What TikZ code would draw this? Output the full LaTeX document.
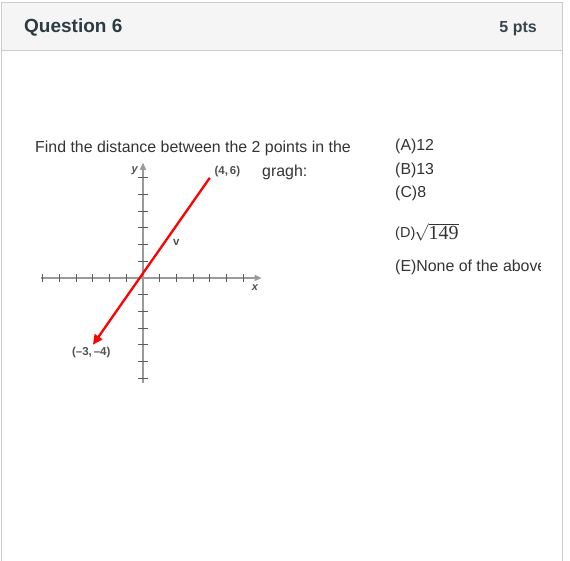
\documentclass[tikz,border=0pt]{standalone}
\usepackage{fontspec}
\setmainfont{Liberation Sans}
\newfontfamily\serifnum{Liberation Serif}
\usetikzlibrary{arrows.meta}
\definecolor{frameg}{HTML}{C7CDD1}
\definecolor{headbg}{HTML}{F5F5F5}
\definecolor{titlec}{HTML}{2D3B45}
\definecolor{bodyc}{HTML}{333333}
\definecolor{axisg}{HTML}{9A9A9A}
\definecolor{tickg}{HTML}{5A5A5A}
\definecolor{lblg}{HTML}{505050}
\tikzset{
  body/.style={anchor=base west, inner sep=0pt, text=bodyc, font=\fontsize{15.9}{18}\selectfont},
  title/.style={anchor=base west, inner sep=0pt, text=titlec, font=\fontsize{19}{22}\bfseries\selectfont},
  glabel/.style={inner sep=0pt, text=lblg, font=\fontsize{11.5}{13}\bfseries\selectfont},
  axisline/.style={axisg, line width=1.3pt},
  tickline/.style={tickg, line width=1pt},
}
\begin{document}
\begin{tikzpicture}[x=1pt,y=-1pt]
\useasboundingbox (0,0) rectangle (570,561);
% frame
\fill[headbg] (1.5,2.5) rectangle (562.5,50.5);
\draw[frameg, line width=1.2pt] (1.5,561) -- (1.5,2.5) -- (562.5,2.5) -- (562.5,561);
\draw[frameg, line width=1.2pt] (1.5,50.5) -- (562.5,50.5);
\node[title] (q) at (24,33) {Question 6};
\node[anchor=base east, inner sep=0pt, text=titlec!85!gray, font=\fontsize{16}{18}\bfseries\selectfont] (pts) at (537,33) {5 pts};
% question text
\node[body] (t1) at (35,153) {Find the distance between the 2 points in the};
\node[body] (t2) at (262,177) {gragh:};
% options
\node[body] (oa) at (395,151) {(A)12};
\node[body] (ob) at (395,175) {(B)13};
\node[body] (oc) at (395,198) {(C)8};
\node[body] (od) at (395,240) {\raisebox{2pt}{\fontsize{14.5}{16}\selectfont(D)}\kern-1pt{\fontsize{19}{22}\selectfont$\sqrt{\hbox{\serifnum\fontsize{20}{22}\selectfont 149}}$}};
\begin{scope}
\clip (380,250) rectangle (540,285);
\node[body] (oe) at (395,272) {(E)None of the above};
\end{scope}
% graph
\begin{scope}[shift={(143,278)}, x=16.7pt, y=16.7pt]
  \coordinate (O) at (0,0);
  \coordinate (xl) at (-6.1,0);
  \coordinate (xr) at (7.1,0);
  \coordinate (yb) at (0,-6.3);
  \coordinate (yt) at (0,6.9);
  \draw[axisline, -{Triangle[length=7pt,width=6pt]}] (xl) -- (xr);
  \draw[axisline, -{Triangle[length=7pt,width=6pt]}] (yb) -- (yt);
  \foreach \i in {-6,...,-1,1,2,...,6} {
    \draw[tickline] (\i,-0.25) -- (\i,0.25);
    \draw[tickline] (-0.3,\i) -- (0.3,\i);
  }
  \coordinate (p46) at (4,6);
  \coordinate (m34) at (-3,-4);
  \draw[red, line width=2.3pt, -{Triangle[length=10pt,width=9pt]}] (p46) -- (m34);
  \node[glabel] (l46) at (5.05,6.35) {(4,\,6)};
  \node[glabel] (l34) at (-3.1,-4.45) {(--3,\,--4)};
  \node[glabel] (lv) at (2.0,2.1) {v};
  \node[glabel, font=\fontsize{11}{12}\bfseries\itshape\selectfont] (lx) at (6.7,-0.55) {x};
  \node[glabel, font=\fontsize{11}{12}\bfseries\itshape\selectfont] (ly) at (-0.5,6.4) {y};
\end{scope}
\end{tikzpicture}
\end{document}
